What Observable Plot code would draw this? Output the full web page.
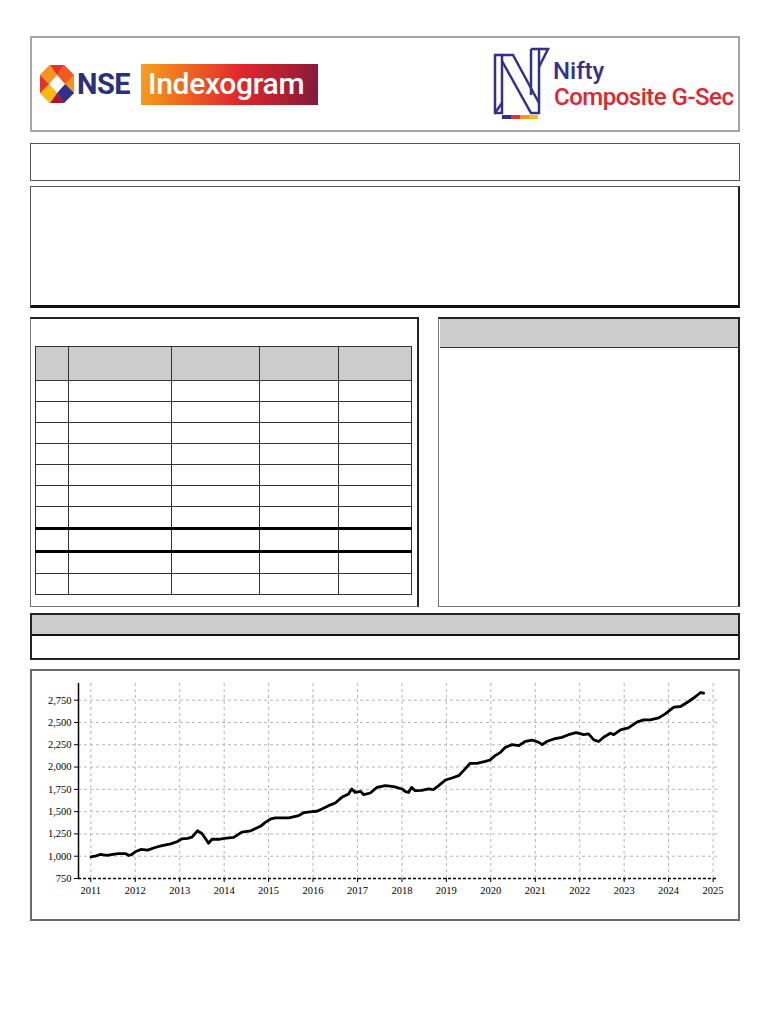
<!DOCTYPE html>
<html>
<head>
<meta charset="utf-8">
<script src="https://cdn.jsdelivr.net/npm/d3@7"></script>
<script src="https://cdn.jsdelivr.net/npm/@observablehq/plot@0.6"></script>
<style>
  html, body { margin: 0; padding: 0; background: #fff; }
  body { position: relative; width: 768px; height: 1024px; overflow: hidden; font-family: Roboto, "Noto Sans", sans-serif; }
  .abs { position: absolute; box-sizing: border-box; }
  table.grid { border-collapse: collapse; table-layout: fixed; }
  table.grid td { border: 1.5px solid #333; padding: 0; }
  table.grid tr.head td { background: #cccccc; height: 33px; }
  table.grid tr.row td { height: 20px; }
  table.grid tr.thick td { border-top: 3px solid #000; }
</style>
</head>
<body>
<script>
// ---- Data ----
const dates = [
  "2011-01-03","2011-02-05","2011-03-21","2011-05-15","2011-07-02","2011-08-14","2011-10-12","2011-11-10","2011-12-05",
  "2012-01-02","2012-02-16","2012-04-12","2012-06-06","2012-07-31","2012-10-19","2012-12-13",
  "2013-01-19","2013-03-07","2013-04-12","2013-05-26","2013-07-02","2013-08-07","2013-08-25","2013-09-23","2013-11-17",
  "2014-01-02","2014-03-21","2014-05-26","2014-08-07","2014-10-26","2014-12-05",
  "2015-01-19","2015-02-27","2015-06-17","2015-09-05","2015-10-19","2015-12-24",
  "2016-02-02","2016-03-14","2016-05-08","2016-07-02","2016-08-25","2016-10-19","2016-11-14","2016-12-13",
  "2017-01-26","2017-02-21","2017-04-16","2017-06-10","2017-08-18","2017-10-26",
  "2018-01-02","2018-01-30","2018-02-24","2018-03-21","2018-04-20","2018-06-13","2018-08-07","2018-09-16","2018-10-30","2018-12-24",
  "2019-02-16","2019-04-12","2019-05-22","2019-07-16","2019-09-09","2019-11-17","2019-12-27",
  "2020-02-05","2020-03-21","2020-04-30","2020-06-24","2020-08-18","2020-10-12","2020-12-05",
  "2021-01-30","2021-02-27","2021-04-09","2021-06-02","2021-08-07","2021-10-01","2021-12-02",
  "2022-02-03","2022-03-14","2022-04-27","2022-06-06","2022-07-16","2022-09-09","2022-10-08","2022-12-02",
  "2023-02-05","2023-04-16","2023-06-10","2023-08-03","2023-10-12","2023-12-05",
  "2024-02-13","2024-04-09","2024-06-17","2024-08-11","2024-09-20","2024-10-15"
];
const values = [
  992,1000,1020,1010,1020,1030,1030,1008,1020,
  1050,1076,1068,1095,1115,1138,1165,
  1195,1200,1215,1285,1255,1185,1145,1190,1190,
  1200,1212,1270,1285,1335,1380,
  1418,1429,1429,1455,1490,1500,
  1504,1530,1567,1597,1660,1698,1754,1716,
  1727,1690,1709,1772,1791,1780,
  1754,1725,1715,1772,1735,1738,1754,1746,1791,1855,
  1877,1903,1960,2042,2042,2064,2079,
  2128,2165,2221,2251,2240,2289,2303,
  2277,2251,2289,2315,2333,2363,2385,
  2364,2372,2305,2286,2335,2379,2364,2417,
  2439,2503,2529,2529,2551,2596,
  2671,2679,2738,2791,2836,2829
];
const yTicks = [750, 1000, 1250, 1500, 1750, 2000, 2250, 2500, 2750];
const yGridValues = [1000, 1250, 1500, 1750, 2000, 2250, 2500, 2750];
const xTickYears = [2011, 2012, 2013, 2014, 2015, 2016, 2017, 2018, 2019, 2020, 2021, 2022, 2023, 2024, 2025];
const yDomain = [750, 2937];
const xDomain = ["2010-09-22", "2025-02-06"];
</script>

<!-- Header box with logos -->
<div class="abs" style="left:30px; top:36px; width:710px; height:96px; border:2px solid #a5a5a5;"></div>
<svg class="abs" style="left:40px; top:65px;" width="34" height="38" viewBox="0 0 34 38">
  <polygon points="10,0 24,0 34,10 34,28 24,38 10,38 0,28 0,10" fill="#f7941d"/>
  <polygon points="10,0 24,0 17,10" fill="#e4312b"/>
  <polygon points="24,0 34,10 25,19 17,10" fill="#f15a24"/>
  <polygon points="34,10 34,28 25,19" fill="#f7941d"/>
  <polygon points="34,28 24,38 17,28 25,19" fill="#2e3192"/>
  <polygon points="24,38 10,38 17,28" fill="#a6192e"/>
  <polygon points="10,38 0,28 9,19 17,28" fill="#fcb813"/>
  <polygon points="0,28 0,10 9,19" fill="#e4312b"/>
  <polygon points="0,10 10,0 17,10 9,19" fill="#f7941d"/>
  <polygon points="17,10 25,19 17,28 9,19" fill="#ffffff"/>
</svg>
<div class="abs" style="left:77px; top:64px; font-family:Roboto, sans-serif; font-weight:700; font-size:29px; color:#2b2f7c; letter-spacing:-0.5px; line-height:40px;">NSE</div>
<div class="abs" style="left:141px; top:64px; width:177px; height:41px; background:linear-gradient(100deg,#f6a21c 0%,#ee6a1f 25%,#e0282b 55%,#b01f33 80%,#7e1a3c 100%);"></div>
<div class="abs" style="left:148px; top:63px; font-family:Roboto, sans-serif; font-weight:500; font-size:30px; color:#ffffff; line-height:42px; letter-spacing:-0.3px;">Indexogram</div>

<svg class="abs" style="left:493px; top:47px;" width="58" height="75" viewBox="0 0 58 75">
  <g fill="none" stroke="#35318a" stroke-width="2.5" stroke-linejoin="miter">
    <path d="M2 8 L9 8 L9 66 L2 66 Z"/>
    <path d="M9 8 L20 8 L46 56 L46 66 L38 66 L9 14"/>
    <path d="M38 2 L46 2 L46 56"/>
    <path d="M38 2 L38 48"/>
    <path d="M46 2 L55 2 L46 20"/>
    <path d="M2 66 L9 56"/>
  </g>
  <rect x="9" y="68" width="9" height="4" fill="#2e3192"/>
  <rect x="18" y="68" width="9" height="4" fill="#e4312b"/>
  <rect x="27" y="68" width="9" height="4" fill="#f7941d"/>
  <rect x="36" y="68" width="9" height="4" fill="#fcb813"/>
</svg>
<div class="abs" style="left:553px; top:56px; font-family:Roboto, sans-serif; font-weight:500; font-size:24px; color:#35318a; line-height:30px;">Nifty</div>
<div class="abs" style="left:554px; top:82px; font-family:Roboto, sans-serif; font-weight:500; font-size:24px; color:#e3262d; line-height:30px; letter-spacing:-0.5px;">Composite G-Sec</div>

<!-- Empty boxes -->
<div class="abs" style="left:30px; top:143px; width:710px; height:38px; border:1.5px solid #555;"></div>
<div class="abs" style="left:30px; top:186px; width:710px; height:122px; border:1.5px solid #555; border-right:2px solid #222; border-bottom:3px solid #111;"></div>

<!-- Left table box -->
<div class="abs" style="left:30px; top:317px; width:389px; height:290px; border:1px solid #777; border-top:2px solid #222; border-right:2px solid #222;"></div>
<table class="grid abs" style="left:35px; top:346px; width:377px;">
  <colgroup><col style="width:33px"><col style="width:103px"><col style="width:87px"><col style="width:79px"><col style="width:73px"></colgroup>
  <tr class="head"><td></td><td></td><td></td><td></td><td></td></tr>
  <tr class="row"><td></td><td></td><td></td><td></td><td></td></tr>
  <tr class="row"><td></td><td></td><td></td><td></td><td></td></tr>
  <tr class="row"><td></td><td></td><td></td><td></td><td></td></tr>
  <tr class="row"><td></td><td></td><td></td><td></td><td></td></tr>
  <tr class="row"><td></td><td></td><td></td><td></td><td></td></tr>
  <tr class="row"><td></td><td></td><td></td><td></td><td></td></tr>
  <tr class="row"><td></td><td></td><td></td><td></td><td></td></tr>
  <tr class="row thick"><td></td><td></td><td></td><td></td><td></td></tr>
  <tr class="row thick"><td></td><td></td><td></td><td></td><td></td></tr>
  <tr class="row"><td></td><td></td><td></td><td></td><td></td></tr>
</table>

<!-- Right box -->
<div class="abs" style="left:438px; top:317px; width:302px; height:290px; border:1.5px solid #777; border-top:2px solid #222; border-right:2px solid #222;"></div>
<div class="abs" style="left:439.5px; top:319px; width:298.5px; height:29px; background:#cccccc; border-bottom:1.5px solid #333;"></div>

<!-- Bottom header box -->
<div class="abs" style="left:30px; top:613px; width:710px; height:47px; border:2px solid #222;"></div>
<div class="abs" style="left:32px; top:615px; width:706px; height:21px; background:#cccccc; border-bottom:2px solid #111;"></div>

<!-- Chart box -->
<div class="abs" style="left:30px; top:669px; width:710px; height:252px; border:2px solid #6a6a6a;"></div>
<div id="chart" class="abs" style="left:32px; top:671px; width:706px; height:248px;"></div>

<script>
const parse = d3.utcParse("%Y-%m-%d");
const series = dates.map((d, i) => ({date: parse(d), value: values[i]}));
const xTicks = xTickYears.map(y => new Date(Date.UTC(y, 0, 1)));
const xd = xDomain.map(parse);

const chart = Plot.plot({
  width: 706,
  height: 248,
  marginLeft: 46,
  marginRight: 21,
  marginTop: 12,
  marginBottom: 41,
  style: {fontFamily: "'Liberation Serif', 'Times New Roman', serif", fontSize: "10.5px", background: "transparent", color: "#000"},
  x: {type: "utc", domain: xd, ticks: xTicks, tickFormat: d3.utcFormat("%Y"), tickSize: 4, tickPadding: 4, label: null},
  y: {domain: yDomain, ticks: yTicks, tickFormat: d3.format(","), tickSize: 4, tickPadding: 3, label: null},
  marks: [
    Plot.ruleX(xTicks, {y1: yDomain[0], y2: yDomain[1], stroke: "#b5b5b5", strokeWidth: 1, strokeDasharray: "3,3"}),
    Plot.ruleY(yGridValues, {x1: xd[0], x2: xd[1], stroke: "#b5b5b5", strokeWidth: 1, strokeDasharray: "3,3"}),
    Plot.ruleY([yDomain[0]], {x1: xd[0], x2: xd[1], stroke: "#000", strokeWidth: 1.5, strokeDasharray: "3,2"}),
    Plot.ruleX([xd[0]], {y1: yDomain[0], y2: yDomain[1], stroke: "#000", strokeWidth: 1.5}),
    Plot.line(series, {x: "date", y: "value", stroke: "#000", strokeWidth: 2.8, strokeLinejoin: "round"})
  ]
});
document.getElementById("chart").appendChild(chart);
</script>
</body>
</html>
